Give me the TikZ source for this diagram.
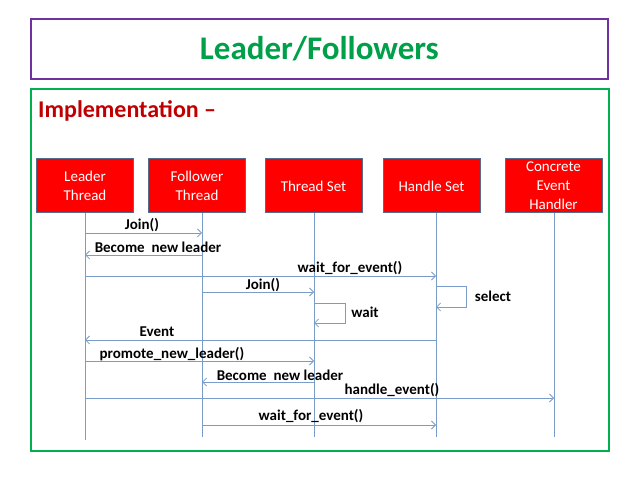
\documentclass[tikz,border=0pt]{standalone}
\usepackage{fontspec}
\setmainfont{Carlito}
\usetikzlibrary{arrows.meta}
\definecolor{ln}{HTML}{7A9CC8}
\definecolor{boxred}{HTML}{FF0000}
\definecolor{ttl}{HTML}{00A04A}
\definecolor{frm}{HTML}{00B050}
\definecolor{pur}{HTML}{7030A0}
\definecolor{impl}{HTML}{C00000}
\begin{document}
\begin{tikzpicture}[x=1pt,y=-1pt,
  obj/.style={draw=ln!70!black,fill=boxred,text=white,font=\fontsize{15}{19}\selectfont,minimum width=97pt,minimum height=54pt,align=center,inner sep=1pt,line width=1pt},
  life/.style={draw=ln,line width=0.8pt},
  msg/.style={draw=ln,line width=0.8pt,-{Straight Barb[length=4pt,width=8pt]}},
  lbl/.style={font=\bfseries\fontsize{15}{17}\selectfont,inner sep=0pt}]
\useasboundingbox (0,0) rectangle (638,478);
\node[draw=pur,line width=1.8pt,minimum width=577pt,minimum height=60pt,anchor=north west,font=\bfseries\fontsize{33}{36}\selectfont,text=ttl] (title) at (30,18) {Leader/Followers};
\node[draw=frm,line width=1.8pt,minimum width=578pt,minimum height=362pt,anchor=north west] (frame) at (30,88) {};
\node[anchor=west,text=impl,font=\bfseries\fontsize{24}{28}\selectfont,inner sep=0pt] (impl) at (38,111) {Implementation –};
\node[obj] (L) at (85,186) {Leader\\Thread};
\node[obj] (F) at (197,186) {Follower\\Thread};
\node[obj] (T) at (313.5,186) {Thread Set};
\node[obj] (H) at (431.5,186) {Handle Set};
\node[obj] (C) at (553.5,186) {Concrete\\Event\\Handler};
\foreach \n/\x/\b in {L/85/440,F/202/437,T/314/437,H/436/437,C/554/437}{
  \coordinate (\n t) at (\x,213); \coordinate (\n b) at (\x,\b);
  \draw[life] (\n t) -- (\n b);}
\foreach \n/\x in {L/85,F/202,T/314,H/436,C/554}{
  \foreach \y in {233,255,276,292,340,361,382,398,425,286,307,303,323}{
    \coordinate (\n\y) at (\x,\y);}}
\draw[msg] (L233) -- (F233);
\node[lbl] (m1) at (142,225) {Join()};
\draw[msg] (F255) -- (L255);
\node[lbl] (m2) at (158,247) {Become\ \ new leader};
\draw[msg] (L276) -- (H276);
\node[lbl] (m3) at (350,268) {wait\_for\_event()};
\draw[msg] (F292) -- (T292);
\node[lbl] (m4) at (263,285) {Join()};
\draw[msg] (H286) -- ++(30,0) |- (H307);
\node[lbl] (m5) at (493,296) {select};
\draw[msg] (T303) -- ++(31,0) |- (T323);
\node[lbl] (m6) at (365,312) {wait};
\draw[msg] (H340) -- (L340);
\node[lbl] (m7) at (157,332) {Event};
\draw[msg] (L361) -- (T361);
\node[lbl] (m8) at (172,354) {promote\_new\_leader()};
\draw[msg] (T382) -- (F382);
\node[lbl] (m9) at (280,375) {Become\ \ new leader};
\draw[msg] (L398) -- (C398);
\node[lbl] (m10) at (392,390) {handle\_event()};
\draw[msg] (F425) -- (H425);
\node[lbl] (m11) at (311,416) {wait\_for\_event()};
\end{tikzpicture}
\end{document}
